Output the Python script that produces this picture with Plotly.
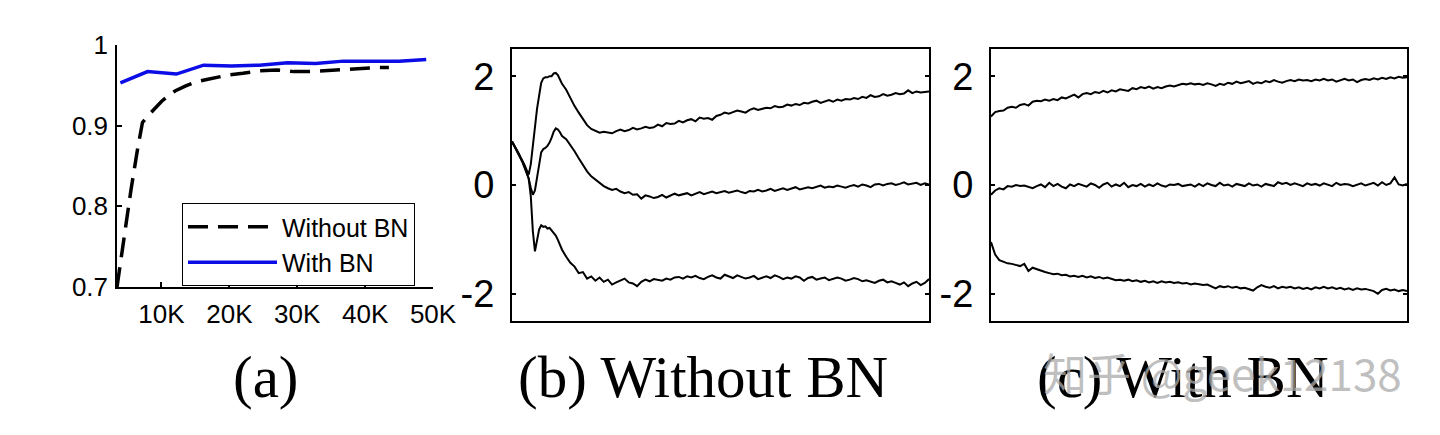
import numpy as np
import plotly.graph_objects as go

# ---------------- Panel (a): test accuracy vs. training steps (in K) ----------------
steps_without_bn = [3.45, 4.5, 5.5, 6.5, 7.2, 8.0, 9.0, 10.0, 11.0, 12.0, 13.5, 15.0, 16.5,
                    18.0, 20.0, 22.0, 24.5, 27.0, 29.5, 32.0, 34.5, 37.0, 39.5, 41.5, 43.5]
acc_without_bn = [0.700, 0.762, 0.820, 0.872, 0.904, 0.912, 0.921, 0.930, 0.937, 0.943, 0.949,
                  0.954, 0.957, 0.960, 0.963, 0.965, 0.968, 0.969, 0.967, 0.967, 0.968, 0.970,
                  0.971, 0.972, 0.972]
steps_with_bn = [3.95, 7.95, 12.2, 16.2, 20.3, 24.4, 28.6, 32.7, 36.8, 40.9, 45.0, 49.0]
acc_with_bn = [0.953, 0.967, 0.964, 0.975, 0.974, 0.975, 0.978, 0.977, 0.980, 0.980, 0.980, 0.982]
a_tickvals = [10, 20, 30, 40, 50]
a_ticktext = ["10K", "20K", "30K", "40K", "50K"]
a_ytickvals = [0.7, 0.8, 0.9, 1.0]
a_yticktext = ["0.7", "0.8", "0.9", "1"]

# ---------------- Panel (b): Without BN, percentiles of input distribution ----------------
b_top = [0.80, 0.74, 0.67, 0.60, 0.52, 0.45, 0.37, 0.28, 0.19, 0.38, 0.74, 1.14, 1.40,
         1.64, 1.88, 1.96, 1.98, 1.98, 2.00, 2.00, 2.05, 2.06, 2.02, 1.94, 1.86,
         1.75, 1.59, 1.45, 1.33, 1.22, 1.10, 1.03, 0.99,
         0.96, 0.98, 0.97, 0.95, 0.99, 1.02, 0.99, 1.01, 1.05, 1.02,
         1.04, 1.07, 1.05, 1.06, 1.11, 1.08, 1.14, 1.12, 1.13, 1.18,
         1.15, 1.19, 1.21, 1.17, 1.24, 1.22, 1.23, 1.20, 1.27, 1.29,
         1.33, 1.31, 1.34, 1.37, 1.35, 1.33, 1.38, 1.41, 1.38, 1.40,
         1.42, 1.41, 1.45, 1.43, 1.44, 1.48, 1.46, 1.49, 1.47, 1.51,
         1.50, 1.53, 1.55, 1.51, 1.54, 1.56, 1.53, 1.57, 1.55, 1.58,
         1.57, 1.60, 1.58, 1.62, 1.60, 1.65, 1.62, 1.63, 1.67, 1.64,
         1.66, 1.69, 1.67, 1.68, 1.74, 1.69, 1.72, 1.70, 1.71, 1.72]
b_mid = [0.80, 0.73, 0.66, 0.58, 0.50, 0.42, 0.33, 0.24, 0.12, -0.05, -0.18, -0.10, 0.12,
         0.38, 0.60, 0.66, 0.68, 0.72, 0.78, 0.87, 0.98, 1.04, 1.02, 0.97, 0.90,
         0.84, 0.74, 0.62, 0.49, 0.37, 0.25, 0.16, 0.10,
         0.03, -0.02, -0.06, -0.09, -0.07, -0.12, -0.15, -0.13, -0.18, -0.17,
         -0.25, -0.19, -0.21, -0.24, -0.22, -0.18, -0.23, -0.20, -0.16, -0.19,
         -0.17, -0.15, -0.19, -0.16, -0.13, -0.17, -0.14, -0.12, -0.15, -0.13,
         -0.11, -0.14, -0.12, -0.10, -0.13, -0.15, -0.11, -0.12, -0.09, -0.12,
         -0.10, -0.07, -0.11, -0.08, -0.06, -0.09, -0.07, -0.04, -0.08, -0.06,
         -0.04, -0.06, -0.03, -0.01, -0.05, -0.03, -0.04, -0.01, -0.03, -0.05,
         -0.02, 0.00, -0.03, 0.01, -0.01, -0.04, 0.01, 0.02, -0.01, 0.02,
         0.03, 0.00, 0.02, 0.05, 0.01, 0.03, 0.04, 0.00, 0.03, 0.01]
b_bot = [0.80, 0.73, 0.66, 0.59, 0.51, 0.43, 0.34, 0.23, 0.12, -0.20, -0.85, -1.22, -1.02,
         -0.82, -0.74, -0.77, -0.76, -0.80, -0.79, -0.84, -0.87, -0.93, -1.01, -1.10, -1.19,
         -1.32, -1.43, -1.50, -1.62, -1.60, -1.72, -1.68, -1.76,
         -1.70, -1.78, -1.74, -1.83, -1.79, -1.75, -1.72, -1.79, -1.81, -1.86,
         -1.78, -1.74, -1.77, -1.73, -1.75, -1.76, -1.72, -1.74, -1.70, -1.69,
         -1.72, -1.68, -1.70, -1.67, -1.71, -1.73, -1.69, -1.66, -1.70, -1.72,
         -1.65, -1.68, -1.71, -1.66, -1.69, -1.72, -1.70, -1.67, -1.73, -1.70,
         -1.68, -1.71, -1.66, -1.69, -1.73, -1.70, -1.72, -1.68, -1.70, -1.76,
         -1.71, -1.69, -1.74, -1.72, -1.70, -1.75, -1.73, -1.70, -1.72, -1.76,
         -1.74, -1.71, -1.73, -1.77, -1.75, -1.78, -1.80, -1.76, -1.74, -1.79,
         -1.77, -1.80, -1.83, -1.79, -1.86, -1.81, -1.78, -1.84, -1.80, -1.73]

# ---------------- Panel (c): With BN ----------------
c_top = [1.26,
         1.34, 1.36, 1.37, 1.42, 1.44, 1.42, 1.47, 1.49, 1.46, 1.53,
         1.55, 1.54, 1.57, 1.55, 1.58, 1.56, 1.61, 1.59, 1.63, 1.66,
         1.61, 1.67, 1.69, 1.67, 1.71, 1.69, 1.73, 1.70, 1.74, 1.72,
         1.76, 1.74, 1.73, 1.78, 1.76, 1.80, 1.78, 1.81, 1.77, 1.80,
         1.78, 1.81, 1.83, 1.81, 1.84, 1.86, 1.85, 1.87, 1.85, 1.86,
         1.84, 1.87, 1.85, 1.82, 1.86, 1.84, 1.88, 1.86, 1.90, 1.87,
         1.89, 1.91, 1.86, 1.89, 1.87, 1.91, 1.89, 1.93, 1.90, 1.88,
         1.91, 1.93, 1.91, 1.94, 1.92, 1.93, 1.91, 1.94, 1.92, 1.95,
         1.92, 1.94, 1.90, 1.93, 1.95, 1.92, 1.94, 1.89, 1.93, 1.95,
         1.93, 1.96, 1.94, 1.97, 1.95, 1.98, 1.96, 1.99, 1.97, 1.98]
c_mid = [-0.18,
         -0.10, -0.06, -0.08, -0.02, -0.03, 0.00, -0.02, -0.01, -0.04, -0.06,
         -0.02, 0.01, -0.04, 0.04, -0.02, 0.02, -0.03, -0.06, 0.01, -0.02,
         0.02, -0.01, -0.03, 0.03, 0.00, -0.05, 0.01, 0.04, -0.03, 0.01,
         -0.02, 0.04, -0.04, 0.00, -0.02, 0.02, -0.03, 0.01, -0.02, 0.03,
         -0.01, -0.03, 0.01, 0.00, 0.02, -0.02, -0.01, 0.01, -0.03, 0.02,
         -0.02, 0.03, 0.00, -0.02, 0.04, -0.01, 0.01, -0.03, 0.02, 0.00,
         -0.02, 0.03, -0.01, 0.01, -0.03, 0.02, 0.00, -0.02, 0.05, 0.02,
         0.04, 0.00, 0.03, 0.01, -0.02, 0.03, 0.00, 0.02, -0.01, 0.03,
         0.01, -0.02, 0.04, 0.00, 0.02, 0.01, -0.02, 0.00, 0.03, -0.01,
         0.02, 0.04, -0.01, 0.05, 0.00, 0.03, 0.14, 0.01, -0.01, 0.02]
c_bot = [-1.05,
         -1.28, -1.38, -1.41, -1.44, -1.45, -1.47, -1.49, -1.45, -1.58, -1.52,
         -1.55, -1.58, -1.60, -1.62, -1.64, -1.63, -1.66, -1.65, -1.68, -1.67,
         -1.69, -1.67, -1.70, -1.68, -1.71, -1.69, -1.72, -1.70, -1.73, -1.75,
         -1.74, -1.76, -1.74, -1.77, -1.75, -1.78, -1.76, -1.79, -1.77, -1.80,
         -1.77, -1.79, -1.78, -1.80, -1.79, -1.81, -1.80, -1.83, -1.81, -1.82,
         -1.84, -1.83, -1.86, -1.90, -1.86, -1.88, -1.86, -1.89, -1.87, -1.90,
         -1.89, -1.92, -1.94, -1.88, -1.84, -1.87, -1.89, -1.86, -1.90, -1.87,
         -1.89, -1.87, -1.90, -1.88, -1.91, -1.89, -1.92, -1.88, -1.90, -1.87,
         -1.90, -1.88, -1.91, -1.89, -1.92, -1.90, -1.93, -1.90, -1.92, -1.91,
         -1.93, -1.95, -2.00, -1.93, -1.91, -1.94, -1.92, -1.95, -1.93, -1.95]

pct_ticks = [-2, 0, 2]
pct_ticktext = ["-2", "0", "2"]
captions = ["(a)", "(b) Without BN", "(c) With BN"]
watermark = "知乎 @geek12138"

# sampling grids (training steps, K)
steps_b = np.concatenate([np.arange(0, 6.001, 0.25), np.arange(6.5, 50.001, 0.5)])
steps_c = np.arange(0, 50.001, 0.5)

# the page body has an 8px margin: size the figure so it fills the 1440x435 window
OFF = 8
W, H = 1440 - OFF, 435 - OFF
def px(x):
    return (x - OFF) / W
def py(y):
    return 1 - (y - OFF) / H

fig = go.Figure()
fig.add_trace(go.Scatter(x=steps_without_bn, y=acc_without_bn, mode="lines", name="Without BN",
                         line=dict(color="black", width=3.5, dash="20px,10px"),
                         xaxis="x", yaxis="y"))
fig.add_trace(go.Scatter(x=steps_with_bn, y=acc_with_bn, mode="lines", name="With BN",
                         line=dict(color="#0c0ce6", width=3.5), xaxis="x", yaxis="y"))
for ys in (b_top, b_mid, b_bot):
    fig.add_trace(go.Scatter(x=steps_b[:len(ys)], y=ys, mode="lines", showlegend=False,
                             line=dict(color="black", width=2), xaxis="x2", yaxis="y2"))
for ys in (c_top, c_mid, c_bot):
    fig.add_trace(go.Scatter(x=steps_c[:len(ys)], y=ys, mode="lines", showlegend=False,
                             line=dict(color="black", width=2), xaxis="x3", yaxis="y3"))

sans = "Arial, Liberation Sans, sans-serif"
serif = "Times New Roman, Liberation Serif, serif"

common = dict(showgrid=False, zeroline=False, automargin=False)

fig.update_layout(
    width=W, height=H, margin=dict(l=0, r=0, t=0, b=0, autoexpand=False),
    paper_bgcolor="white", plot_bgcolor="white",
    font=dict(family=sans, color="black"),
    xaxis=dict(domain=[px(117), px(433)], range=[3.45, 50], tickvals=a_tickvals, ticktext=a_ticktext,
               ticks="inside", ticklen=5, tickwidth=1.5, tickcolor="black",
               showline=True, linecolor="black", linewidth=1.5, mirror=False,
               tickfont=dict(size=26, family=sans), ticklabelstandoff=3, anchor="y", **common),
    yaxis=dict(domain=[py(287), py(45)], range=[0.7, 1.0], tickvals=a_ytickvals, ticktext=a_yticktext,
               ticks="inside", ticklen=5, tickwidth=1.5, tickcolor="black",
               showline=True, linecolor="black", linewidth=1.5, mirror=False,
               tickfont=dict(size=26, family=sans), ticklabelstandoff=2, anchor="x", **common),
    xaxis2=dict(domain=[px(512), px(929)], range=[0, 50], showticklabels=False, ticks="",
                showline=True, linecolor="black", linewidth=2, mirror=True, anchor="y2", **common),
    yaxis2=dict(domain=[py(321), py(49)], range=[-2.5, 2.5], tickvals=pct_ticks, ticktext=pct_ticktext,
                ticks="inside", ticklen=4, tickwidth=1.5, tickcolor="black",
                showline=True, linecolor="black", linewidth=2, mirror="ticks",
                tickfont=dict(size=38, family=sans), ticklabelstandoff=8, anchor="x2", **common),
    xaxis3=dict(domain=[px(991), px(1407)], range=[0, 50], showticklabels=False, ticks="",
                showline=True, linecolor="black", linewidth=2, mirror=True, anchor="y3", **common),
    yaxis3=dict(domain=[py(321), py(49)], range=[-2.5, 2.5], tickvals=pct_ticks, ticktext=pct_ticktext,
                ticks="inside", ticklen=4, tickwidth=1.5, tickcolor="black",
                showline=True, linecolor="black", linewidth=2, mirror="ticks",
                tickfont=dict(size=38, family=sans), ticklabelstandoff=8, anchor="x3", **common),
    legend=dict(x=px(182), y=py(203), xanchor="left", yanchor="top",
                bgcolor="white", bordercolor="black", borderwidth=1,
                font=dict(size=25, family=sans, color="black"), itemwidth=89,
                tracegroupgap=0),
    showlegend=True,
)

cap_x = [265, 703, 1183]
for txt, cx in zip(captions, cap_x):
    fig.add_annotation(text=txt, x=px(cx), y=py(377), xref="paper", yref="paper",
                       xanchor="center", yanchor="middle", showarrow=False,
                       font=dict(family=serif, size=59, color="black"))
fig.add_annotation(text=watermark, x=px(1222), y=py(372), xref="paper", yref="paper",
                   xanchor="center", yanchor="middle", showarrow=False,
                   font=dict(family="Noto Sans CJK SC", size=44, color="rgba(170,170,170,0.75)"))

fig.write_html("out.html")
